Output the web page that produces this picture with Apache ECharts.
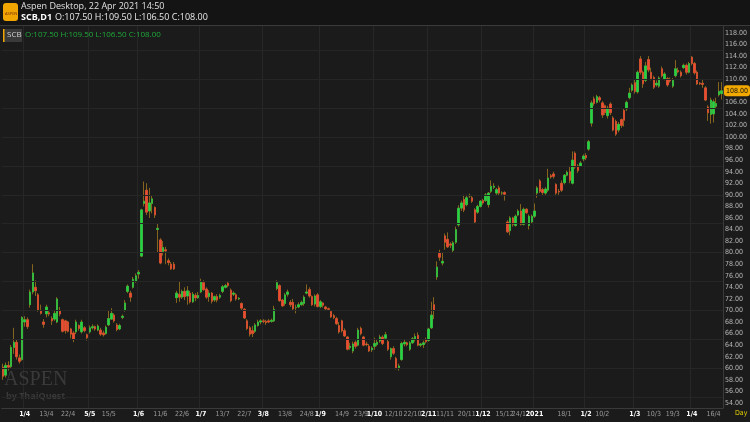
<!DOCTYPE html>
<html>
<head>
<meta charset="utf-8">
<script src="https://cdn.jsdelivr.net/npm/echarts@6.0.0/dist/echarts.min.js"></script>
<style>
  html, body { margin: 0; padding: 0; background: #1b1b1b; }
  #chart { width: 750px; height: 422px; }
</style>
</head>
<body>
<div id="chart"></div>
<script>
// OHLC: [open, close, low, high]
var candles = [
  [60.2,58.6,58,60.8],[58.8,60.5,58.4,61],[60.5,60.2,59.6,61.2],[60.3,63.6,60,64],[63.6,64.5,62.5,67],
  [64.5,62,61.5,65],[61.8,61.2,60.8,62.4],[61.5,68.8,61.3,69],[68,68.4,67.2,69],[68.4,67.2,66.8,68.8],
  [71,73.2,70.5,73.6],[73.2,76.5,72.8,78],[74,73.4,72.5,75.2],[72.7,70,69.8,73],[70,69.5,69.3,71],
  [68,67.6,67,68.5],[69.4,70.6,68.8,71],[69.6,69.4,69,70],[68.6,68.2,67.5,69],[68.5,69.5,68.2,70],
  [68,72,67.8,72.3],[70,69.4,69,70.6],[68.4,66.4,66.2,68.6],[68.2,66.5,66,68.4],[68,66.4,66.2,68.2],
  [66.8,65.9,65.2,67],[66.1,65,64.5,66.4],[66.3,68,65.9,68.4],[67.4,66.9,66.5,67.6],[66.3,68,66,68.4],
  [67,66.5,66.2,67.3],[65.8,65.3,64.8,66],[66.3,67,66,67.4],[67,67.2,66.7,67.6],[67.2,66.8,66.5,67.4],
  [66.6,67.3,66.4,67.6],[66.6,65.9,65.6,67],[66.1,65.8,65.5,66.5],[66,67.1,65.8,67.4],[67.5,68.6,67.3,70],
  [68.5,69.5,68.4,70.4],[69.2,68.2,67.9,69.5],[67.5,66.7,66.4,67.8],[66.8,67.4,66.6,67.7],[68.8,69,68.5,69.3],
  [70,71.3,69.8,71.8],[73.3,74.2,73,74.5],[73,72.3,71.5,73.4],[74,75.4,73.8,75.8],[75,76,74.8,76.4],
  [76.3,76.6,75.5,77],[79.4,87.4,79.2,87.6],[88.5,88.9,88,92.3],[90.8,87,86.5,92],[87.2,88.6,86,91.2],
  [88.5,89.3,86.8,89.8],[87.8,86.5,86,88],[84,84.2,80,85],[82.2,78.2,78,82.5],[80.2,80.9,79.5,82],
  [80.5,80.3,78,81],[78.6,78.3,77.8,79],[78,77.2,77,78.4],[78,77.2,77,78.4],[72.2,73,71.3,73.4],
  [72.8,72.3,71.5,75],[72.3,73.3,72,73.6],[73.3,72.4,71.8,74],[72.5,73.4,71,74.2],[73,71.5,71.2,73.4],
  [71.5,72.8,71.3,73.2],[72.6,72.2,71.6,73],[72.2,72.6,72,73.2],[73.2,75,73,75.5],[74.8,73.6,73.4,75.2],
  [73.7,72.3,72,74],[72.4,73,71.5,73.5],[73,71.6,71.2,73.2],[71.8,72.4,71.5,72.6],[72.4,71.8,71.4,72.8],
  [72.3,72.6,72,72.9],[73.3,74.1,73,74.4],[74,74.3,73.8,74.6],[74.7,74.3,74,75],[73.5,71.7,71.4,73.8],
  [72.8,73,72.5,73.3],[72.7,72,71.7,73],[72,72.1,71.8,72.3],[71.2,70.4,70.1,71.4],[70.2,68.7,68.5,70.4],
  [68.2,66.9,66.6,68.5],[67,65.9,65.5,67.3],[66.5,66,65.4,67.3],[66.4,67.5,66.1,67.8],[67.4,68,67.2,68.4],
  [68,68.2,67.6,68.5],[68.2,68.1,67.8,68.5],[68.1,67.9,67.5,68.4],[68.2,68,67.8,68.5],[68.1,68.3,67.9,68.6],
  [68.2,70.2,68,70.8],[73.8,74.8,73.5,75.2],[74.3,71.7,71.5,74.5],[71.8,70.8,70.6,72],[71.2,72.7,70.8,73],
  [72.8,73.2,72.4,73.6],[71.4,71,70.6,71.8],[71.4,70.3,70,72],[70.5,70.5,69.5,71],[70.6,71,70.4,71.4],
  [71,71.4,70.8,71.7],[71.2,72.3,70.8,72.6],[73,73.2,72.8,74.5],[73.6,72.5,72.2,74],[72.4,71,70.8,72.6],
  [71.1,72.5,70.7,72.8],[72.7,70.7,70.5,73],[70.7,71.5,70.4,71.8],[71.3,70.9,70.5,71.4],[70.6,70.3,70,70.8],
  [70.3,70.2,70,70.5],[69.8,68.9,68.7,70],[69.1,68.8,68.5,69.4],[68.6,67.7,67.5,68.9],[67.4,66.3,66,68],
  [68.2,66.5,66.2,68.4],[66.5,65.6,65.4,66.9],[65.4,63.3,63.1,65.6],[63.6,63.8,63.2,64.4],[63,64.2,62.6,64.6],
  [64.5,63.8,63.4,64.8],[64,66.6,63.8,67],[66.9,66,65.7,67.2],[65.4,64,63.8,65.6],[64.2,64.1,63.8,64.6],
  [63.8,63,62.8,64.2],[63.2,63.5,62.8,63.8],[63.8,64.3,63.2,65.3],[64.1,64.5,63.8,64.9],[64.7,65.4,64.4,65.8],
  [65.4,64.3,64,65.7],[65.2,65.8,65,66.3],[64.6,63.3,63,64.9],[62,63.4,61.5,63.6],[63.4,62.6,62.3,63.8],
  [61.7,60,59.8,62],[60.1,60.4,59.6,60.8],[61.5,64.3,61.3,64.6],[64.2,64.5,63.8,64.9],[64.4,64.1,63.8,64.6],
  [63.3,64.4,63,64.7],[64.4,65.1,64.2,65.4],[65,65.5,64.6,66],[65.7,64,63.8,66.2],[64,64.2,63.7,64.4],
  [64.1,64.4,63.5,64.8],[64.9,64.6,64.3,65.3],[64.8,66.8,64.6,67],[67,69.2,66.8,71.5],[71,70,68.5,72.3],
  [75.8,77.5,75.3,78.5],[80,79.2,78.6,80.5],[78.2,78.5,77.8,80],[82.9,81.8,80.5,83.3],[82.3,81,80.8,83.5],
  [81.5,81.3,80.8,81.8],[80.4,81.7,80,82],[81.8,84,81.5,84.5],[84.8,87.7,84.5,88.2],[87.7,88.6,87.2,89],
  [89.2,87.4,87,90],[88.3,89.5,88,90],[89.8,89.9,89.5,90.2],[89.5,88.9,88.6,89.8],[87.4,85.3,85,87.7],
  [87,88,86.7,88.3],[88,88.9,87.8,89.1],[89,88.6,88.3,89.3],[89,90,88.8,90.3],[88.3,90.3,87.8,90.5],
  [90.6,91.5,90.3,92.5],[91.3,91.5,91,92],[90.3,90.9,90,91.2],[91.2,90.3,89.8,91.6],[90.3,90.3,89.9,90.6],
  [90.4,90.1,89,90.6],[85.3,83.6,83.4,85.6],[83.8,86,83,86.3],[86,84.9,84.5,86.2],[84.7,86.3,84.5,86.6],
  [86.5,87.2,86.3,87.5],[87.2,84.9,84.7,88.4],[84.9,87.5,84.7,87.8],[87.5,86.9,86.7,87.7],[84.7,86.3,84,86.6],
  [85.3,86.3,85,86.6],[86.3,87.2,86,88.5],[90.3,91.2,89.5,91.5],[92.4,90.6,90.3,92.7],[90.9,90.4,90,91.2],
  [90.3,91,90,91.3],[90.8,92.9,90.5,94.5],[93.3,93.1,92.8,93.6],[93.6,93.2,92.8,94],[91.8,90.3,90,92],
  [90.6,90.5,90,91],[92,90.8,90.5,92.5],[92.1,93.4,91.8,93.6],[93.4,93.9,93.2,94.2],[94,92.5,92,95],
  [92,96,91.8,97.5],[97.2,94.8,94.5,97.5],[95,94.2,93.8,95.3],[95,95.5,94.8,95.8],[96.2,96.7,95.8,97],
  [96.8,96.4,96,97.2],[97.9,99.2,97.6,99.5],[102.4,105.9,101.8,106.3],[106.6,105.8,105.4,107],[106,107,105.8,107.3],
  [106.8,106.4,106,107.1],[105.9,103.8,103.3,106.2],[105.4,104.2,103.8,105.6],[103.7,105,103.2,105.4],[105.7,104.2,103.8,106],
  [103.3,101.2,101,103.6],[102.7,100.5,100.2,103],[101.2,102.2,100.8,102.6],[103,102,101.6,103.2],[104.6,102.9,101.8,105],
  [104.9,106,104.5,106.3],[106.8,107.6,106.5,108.5],[108.1,109,107.8,109.3],[109.4,107.9,107.5,110],[107.8,111.2,107.5,111.5],
  [113.5,111.2,110.8,114],[111.2,109.2,108.5,111.5],[109.8,112.3,109.5,113],[113.4,111.6,111.2,114],[111.2,110.1,109.8,112],
  [110.3,108.6,108.3,110.6],[109,109.3,108.7,109.8],[108.8,110.2,108.5,110.5],[111.8,110.6,110.3,112.2],[110,110.9,109.8,111.2],
  [110.1,109,108.7,110.4],[110,109.7,109.4,110.3],[108.8,109.8,108.5,110.2],[110.6,111.8,110.3,113.3],[111.5,111.3,111,112],
  [111.2,110.6,110.3,111.5],[112,112.4,111.8,112.7],[112.4,111.2,110.8,112.7],[111.2,112.7,111,113],[113.8,112.7,112.4,114],
  [112.7,111.1,110.8,113],[111.2,109.2,109,111.5],[109.3,109.2,109,109.5],[109.3,109.1,108.5,110],[108.5,106.4,106.2,108.8],
  [105.2,104.2,102.8,105.5],[103.9,106.4,102.3,106.8],[104,106.1,102.5,106.5],[105.3,105.8,105,106.8],[107.3,107.9,107,109.5],
  [107.5,108,106.5,109.5]
];

// date labels on the time axis: candle index -> text
var labelIdx  = [8,16,24,32,39,50,58,66,73,81,89,96,104,112,117,125,132,137,144,151,157,163,171,177,185,191,196,207,215,221,233,240,247,254,262];
var labelText = ['1/4','13/4','22/4','5/5','15/5','1/6','11/6','22/6','1/7','13/7','22/7','3/8','13/8','24/8','1/9','14/9','23/9','1/10','12/10','22/10','2/11','11/11','20/11','1/12','15/12','24/12','2021','18/1','1/2','10/2','1/3','10/3','19/3','1/4','16/4'];
var monthStart = ['1/4','5/5','1/6','1/7','3/8','1/9','1/10','2/11','1/12','2021','1/2','1/3','1/4'];

var priceTicks = [];
for (var v = 54; v <= 118; v += 2) priceTicks.push(v);
var gridLevels = [55,60,65,70,75,80,85,90,95,100,105,110,115];
var lastClose = 108.00;

var categories = candles.map(function (c, i) {
  var k = labelIdx.indexOf(i);
  return k >= 0 ? labelText[k] : '';
});
var bodies = candles.map(function (c) {
  return [c[0], c[1], Math.min(c[0], c[1]), Math.max(c[0], c[1])];
});

var UP = '#1ed548', DOWN = '#ec4a34', WICK = '#85651d';
var FONT = '"Open Sans", "Noto Sans", sans-serif';
var NARROW = '"Liberation Sans Narrow", "DejaVu Sans Condensed", sans-serif';

var myChart = echarts.init(document.getElementById('chart'));

var lines = gridLevels.map(function (g) {
  return { yAxis: g, lineStyle: { color: '#262626', width: 1, type: 'solid' }, label: { show: false } };
});

var option = {
  backgroundColor: '#1b1b1b',
  animation: false,
  grid: { left: 0, right: 20, top: 26, bottom: 14 },
  xAxis: {
    type: 'category',
    data: categories,
    boundaryGap: true,
    axisLine: { lineStyle: { color: '#3a3a3a' } },
    axisTick: { show: false },
    axisLabel: {
      interval: 0, margin: 3, fontSize: 7, fontFamily: NARROW, color: '#9a9a9a',
      formatter: function (v) { return monthStart.indexOf(v) >= 0 ? '{b|' + v + '}' : v; },
      rich: { b: { fontWeight: 'bold', color: '#ffffff', fontSize: 7, fontFamily: NARROW } }
    },
    splitLine: {
      show: true,
      interval: function (i, v) { return monthStart.indexOf(v) >= 0; },
      lineStyle: { color: '#272727' }
    }
  },
  yAxis: {
    type: 'value',
    position: 'right',
    min: 53.13,
    max: 119.2,
    axisLine: { show: true, lineStyle: { color: '#3a3a3a' } },
    axisTick: { show: false, customValues: priceTicks },
    splitLine: { show: false },
    axisPointer: {
      show: true, value: lastClose, status: 'show', triggerTooltip: false,
      lineStyle: { opacity: 0 },
      label: {
        show: true, precision: 2, backgroundColor: '#f2a900', color: '#111',
        fontSize: 7, fontFamily: NARROW, padding: [2, 2], margin: 1
      }
    },
    axisLabel: {
      customValues: priceTicks, margin: 2, fontSize: 7, color: '#b8b8b8', fontFamily: NARROW,
      formatter: function (v) { return v.toFixed(2); }
    }
  },
  axisPointer: { triggerOn: 'none' },
  series: [
    {
      name: 'wick',
      type: 'candlestick',
      data: candles,
      barWidth: 2,
      itemStyle: { color: 'transparent', color0: 'transparent', borderColor: WICK, borderColor0: WICK, borderWidth: 1 },
      markLine: { symbol: 'none', silent: true, animation: false, data: lines }
    },
    {
      name: 'SCB',
      type: 'candlestick',
      data: bodies,
      barWidth: 2,
      itemStyle: { color: UP, color0: DOWN, borderColor: UP, borderColor0: DOWN, borderWidth: 0.5 }
    }
  ],
  graphic: [
    { type: 'rect', shape: { x: 0, y: 0, width: 750, height: 25 }, style: { fill: '#141414' }, z: 10 },
    { type: 'rect', shape: { x: 0, y: 25, width: 750, height: 1 }, style: { fill: '#3a3a3a' }, z: 10 },
    { type: 'rect', shape: { x: 3, y: 3, width: 15, height: 18, r: 3 }, style: { fill: '#f0a500' }, z: 11 },
    { type: 'text', left: 5, top: 12, style: { text: 'ASPEN', fill: '#7a2a00', fontSize: 4, fontFamily: FONT }, z: 12 },
    { type: 'text', left: 21, top: 2, style: { text: 'Aspen Desktop, 22 Apr 2021 14:50', fill: '#e0e0e0', fontSize: 9, fontFamily: FONT }, z: 11 },
    { type: 'text', left: 21, top: 13, style: { text: 'SCB,D1', fill: '#ffffff', fontSize: 9, fontWeight: 'bold', fontFamily: FONT }, z: 11 },
    { type: 'text', left: 55, top: 13, style: { text: 'O:107.50 H:109.50 L:106.50 C:108.00', fill: '#e8e8e8', fontSize: 9, fontFamily: FONT }, z: 11 },
    { type: 'rect', shape: { x: 3, y: 29, width: 19, height: 13 }, style: { fill: '#3a3a3a' }, z: 11 },
    { type: 'rect', shape: { x: 3, y: 29, width: 1.5, height: 13 }, style: { fill: '#f0a500' }, z: 12 },
    { type: 'text', left: 7, top: 31, style: { text: 'SCB', fill: '#d0d0d0', fontSize: 8, fontFamily: FONT }, z: 12 },
    { type: 'text', left: 25, top: 31, style: { text: 'O:107.50 H:109.50 L:106.50 C:108.00', fill: '#1fa83a', fontSize: 8, fontFamily: FONT }, z: 12 },
    { type: 'text', left: 4, top: 370, style: { text: 'ASPEN', fill: '#3a3a3a', fontSize: 20, fontFamily: '"Liberation Serif", serif' }, z: 1 },
    { type: 'text', left: 6, top: 392, style: { text: 'by ThaiQuest', fill: '#3a3a3a', fontSize: 9, fontWeight: 'bold', fontFamily: FONT }, z: 1 },
    { type: 'text', left: 735, top: 410, style: { text: 'Day', fill: '#e6d200', fontSize: 7, fontFamily: NARROW }, z: 11 }
  ]
};

myChart.setOption(option);
</script>
</body>
</html>
